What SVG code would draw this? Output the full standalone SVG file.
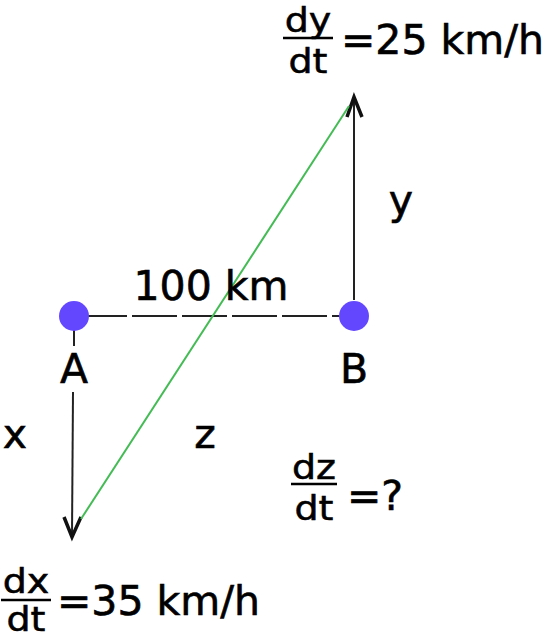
<svg xmlns="http://www.w3.org/2000/svg" width="545" height="638" viewBox="0 0 545 638">
<style>
text{font-family:"DejaVu Sans","Verdana",sans-serif;fill:#000;stroke:#000;stroke-width:0.6;}
.big{font-size:41px;}
.fr{font-size:38px;text-anchor:middle;}
.mid{text-anchor:middle;}
.ln{stroke:#222;stroke-width:2;fill:none;}
.hd{stroke:#111;stroke-width:3.5;fill:none;stroke-linejoin:miter;}
.bar{stroke:#000;stroke-width:2.5;}
.node{fill:#6347fe;}
</style>
<rect width="545" height="638" fill="#fff"/>
<g id="connectors">
<line class="ln" x1="82" y1="316" x2="339" y2="316" stroke-dasharray="45 5"/>
<line class="ln" x1="74" y1="330" x2="74" y2="346"/>
<line class="ln" x1="73" y1="392" x2="72" y2="535"/>
<polyline class="hd" points="64,517 72,537 81,517"/>
<line class="ln" x1="354" y1="300" x2="354" y2="99"/>
<polyline class="hd" points="347,117 354,97 362,117"/>
<line x1="81" y1="519" x2="349" y2="106" stroke="#44bb55" stroke-width="2"/>
</g>
<g id="nodeA"><circle class="node" cx="74" cy="316" r="15"/><text class="big mid" x="74" y="383">A</text></g>
<g id="nodeB"><circle class="node" cx="354" cy="316" r="15"/><text class="big mid" x="354" y="383">B</text></g>
<g id="label-dist"><text class="big mid" x="211" y="300">100 km</text></g>
<g id="label-x"><text class="big mid" x="15" y="448">x</text></g>
<g id="label-y"><text class="big mid" x="401" y="214">y</text></g>
<g id="label-z"><text class="big mid" x="205" y="448">z</text></g>
<g id="rate-y">
<text class="fr" transform="translate(308,32) scale(1,0.88)">dy</text>
<line class="bar" x1="283" y1="38" x2="333" y2="38"/>
<text class="fr" transform="translate(308,73) scale(1,0.88)">dt</text>
<text class="big" x="341" y="54">=25 km/h</text>
</g>
<g id="rate-x">
<text class="fr" transform="translate(26,593) scale(1,0.88)">dx</text>
<line class="bar" x1="1" y1="600" x2="51" y2="600"/>
<text class="fr" transform="translate(26,631) scale(1,0.88)">dt</text>
<text class="big" x="57" y="615">=35 km/h</text>
</g>
<g id="rate-z">
<text class="fr" transform="translate(314,479) scale(1,0.88)">dz</text>
<line class="bar" x1="291" y1="484" x2="337" y2="484"/>
<text class="fr" transform="translate(314,520) scale(1,0.88)">dt</text>
<text class="big" x="347" y="510">=?</text>
</g>
</svg>
